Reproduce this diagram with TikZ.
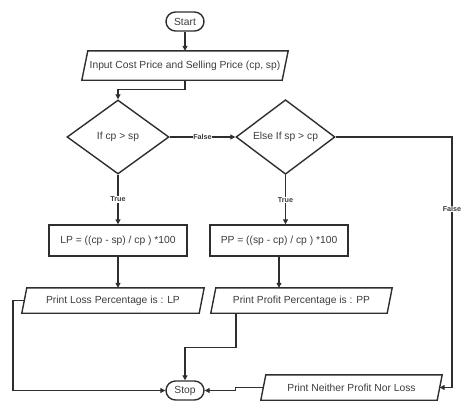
\documentclass[tikz,border=0pt]{standalone}
\usepackage{fontspec}
\setmainfont{Liberation Sans}
\usetikzlibrary{shapes.geometric,arrows.meta}
\definecolor{ln}{HTML}{2E2E2E}
\definecolor{tx}{HTML}{3C3C3C}
\tikzset{
  base/.style={inner sep=0pt, text=tx, font=\fontsize{10.3}{12}\selectfont},
  term/.style={base, draw=ln, line width=1.4pt, rounded corners=9.5pt, minimum width=38pt, minimum height=19pt},
  procbox/.style={base, draw=ln, line width=1.4pt, minimum width=138pt, minimum height=31pt},
  iobox/.style={base, minimum height=25pt},
  decbox/.style={base, draw=ln, line width=1.4pt, diamond, minimum width=#1, minimum height=74pt},
  border/.style={draw=ln, line width=1.4pt, line join=miter},
  arr/.style={draw=ln, line width=1.4pt, -{Triangle[length=5pt,width=5pt]}},
  lbl/.style={fill=white, inner sep=0.6pt, text=tx, font=\bfseries\fontsize{7.2}{8}\selectfont}
}
\newcommand\parabox[2]{\draw[border] ([xshift=#2]#1.north west) -- ([xshift=#2]#1.north east) -- ([xshift=-#2]#1.south east) -- ([xshift=-#2]#1.south west) -- cycle;}
\begin{document}
\begin{tikzpicture}[x=1pt,y=-1pt]
\useasboundingbox (0,0) rectangle (474,413);
\node[term] (start) at (185,21.5) {Start};
\node[iobox, minimum width=200pt, minimum height=29pt] (input) at (185,65.5) {Input Cost Price and Selling Price (cp, sp)};
\parabox{input}{3pt}
\node[decbox=102pt] (d1) at (118,137) {If cp > sp};
\node[decbox=99pt] (d2) at (285.5,137) {Else If sp > cp};
\node[procbox] (lp) at (118,240.5) {LP = ((cp - sp) / cp ) *100};
\node[procbox] (pp) at (279,240.5) {PP = ((sp - cp) / cp ) *100};
\node[iobox, minimum width=177pt] (loss) at (113,300.5) {Print Loss Percentage is : LP};
\parabox{loss}{2.5pt}
\node[iobox, minimum width=176pt] (profit) at (301.5,300.5) {Print Profit Percentage is : PP};
\parabox{profit}{2.5pt}
\node[term] (stop) at (185,390.5) {Stop};
\node[iobox, minimum width=176pt] (neither) at (351.5,387.5) {Print Neither Profit Nor Loss};
\parabox{neither}{2.5pt}
\coordinate (cf) at (452,137);

\draw[arr] (start) -- (input);
\draw[arr] (input.south) -- ++(0,9) -| (d1.north);
\draw[arr] (d1.east) -- node[lbl] {False} (d2.west);
\draw[arr] (d1.south) -- node[lbl] {True} (lp.north);
\draw[arr] (d2.south) -- node[lbl] {True} (d2.south |- pp.north);
\draw[arr] (d2.east) -- (cf) |- node[lbl, pos=0.144] {False} (neither.east);
\draw[arr] (lp.south) -- (lp.south |- loss.north);
\draw[arr] (pp.south) -- (pp.south |- profit.north);
\draw[arr] ([xshift=-65.5pt]profit.south) -- ++(0,34) -| (stop.north);
\draw[arr] (loss.west) -- ++(-11.5,0) |- (stop.west);
\draw[arr] (neither.west) -- ++(-28,0) |- (stop.east);
\end{tikzpicture}
\end{document}
